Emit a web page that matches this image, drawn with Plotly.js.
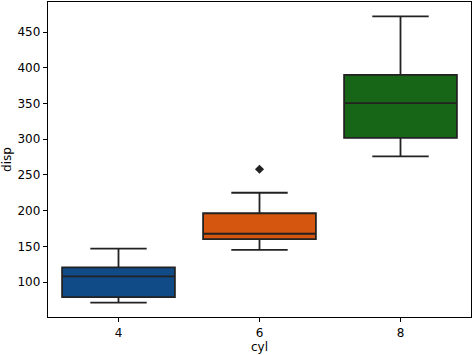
<!DOCTYPE html>
<html><head><meta charset="utf-8">
<script src="https://cdn.plot.ly/plotly-3.0.1.min.js"></script>
<style>html,body{margin:0;padding:0;background:#fff}#c{width:474px;height:355px}</style>
</head><body><div id="c"></div>
<script>
const categories = ['4', '6', '8'];
const q1 = [78.85, 160, 301.75];
const median = [108, 167.6, 350.5];
const q3 = [120.65, 196.3, 390];
const lowerFence = [71.1, 145, 275.8];
const upperFence = [146.7, 225, 472];
const colors = ['#104A87', '#D4560F', '#176617'];
const outlierCat = ['6'];
const outlierVal = [258];

const traces = categories.map((c, i) => ({
  type: 'box',
  x: [c],
  q1: [q1[i]], median: [median[i]], q3: [q3[i]],
  lowerfence: [lowerFence[i]], upperfence: [upperFence[i]],
  width: 0.8,
  whiskerwidth: 0.5,
  fillcolor: colors[i],
  line: {color: '#222222', width: 1.8},
  boxpoints: false,
  showlegend: false,
  hoverinfo: 'none'
}));
traces.push({
  type: 'scatter', mode: 'markers', x: outlierCat, y: outlierVal,
  marker: {symbol: 'diamond', size: 7, color: '#222222'},
  showlegend: false, hoverinfo: 'none'
});

const font = {family: 'DejaVu Sans, sans-serif', size: 12, color: '#000'};
Plotly.newPlot('c', traces, {
  width: 474, height: 355,
  margin: {l: 48, r: 3, t: 2, b: 38},
  paper_bgcolor: '#fff', plot_bgcolor: '#fff',
  boxmode: 'overlay',
  font: font,
  showlegend: false,
  xaxis: {
    type: 'category', categoryorder: 'array', categoryarray: categories,
    range: [-0.5, 2.5],
    showline: true, mirror: true, linecolor: '#000', linewidth: 1.3,
    ticks: 'outside', ticklen: 4, tickcolor: '#000', tickwidth: 1,
    showgrid: false, zeroline: false,
    title: {text: 'cyl', font: font, standoff: 4},
    tickfont: font
  },
  yaxis: {
    range: [51.05, 492.05],
    tickvals: [100, 150, 200, 250, 300, 350, 400, 450],
    showline: true, mirror: true, linecolor: '#000', linewidth: 1.3,
    ticks: 'outside', ticklen: 4, tickcolor: '#000', tickwidth: 1,
    showgrid: false, zeroline: false,
    title: {text: 'disp', font: font, standoff: 6},
    tickfont: font
  }
}, {displayModeBar: false, staticPlot: true});
</script>
</body></html>
